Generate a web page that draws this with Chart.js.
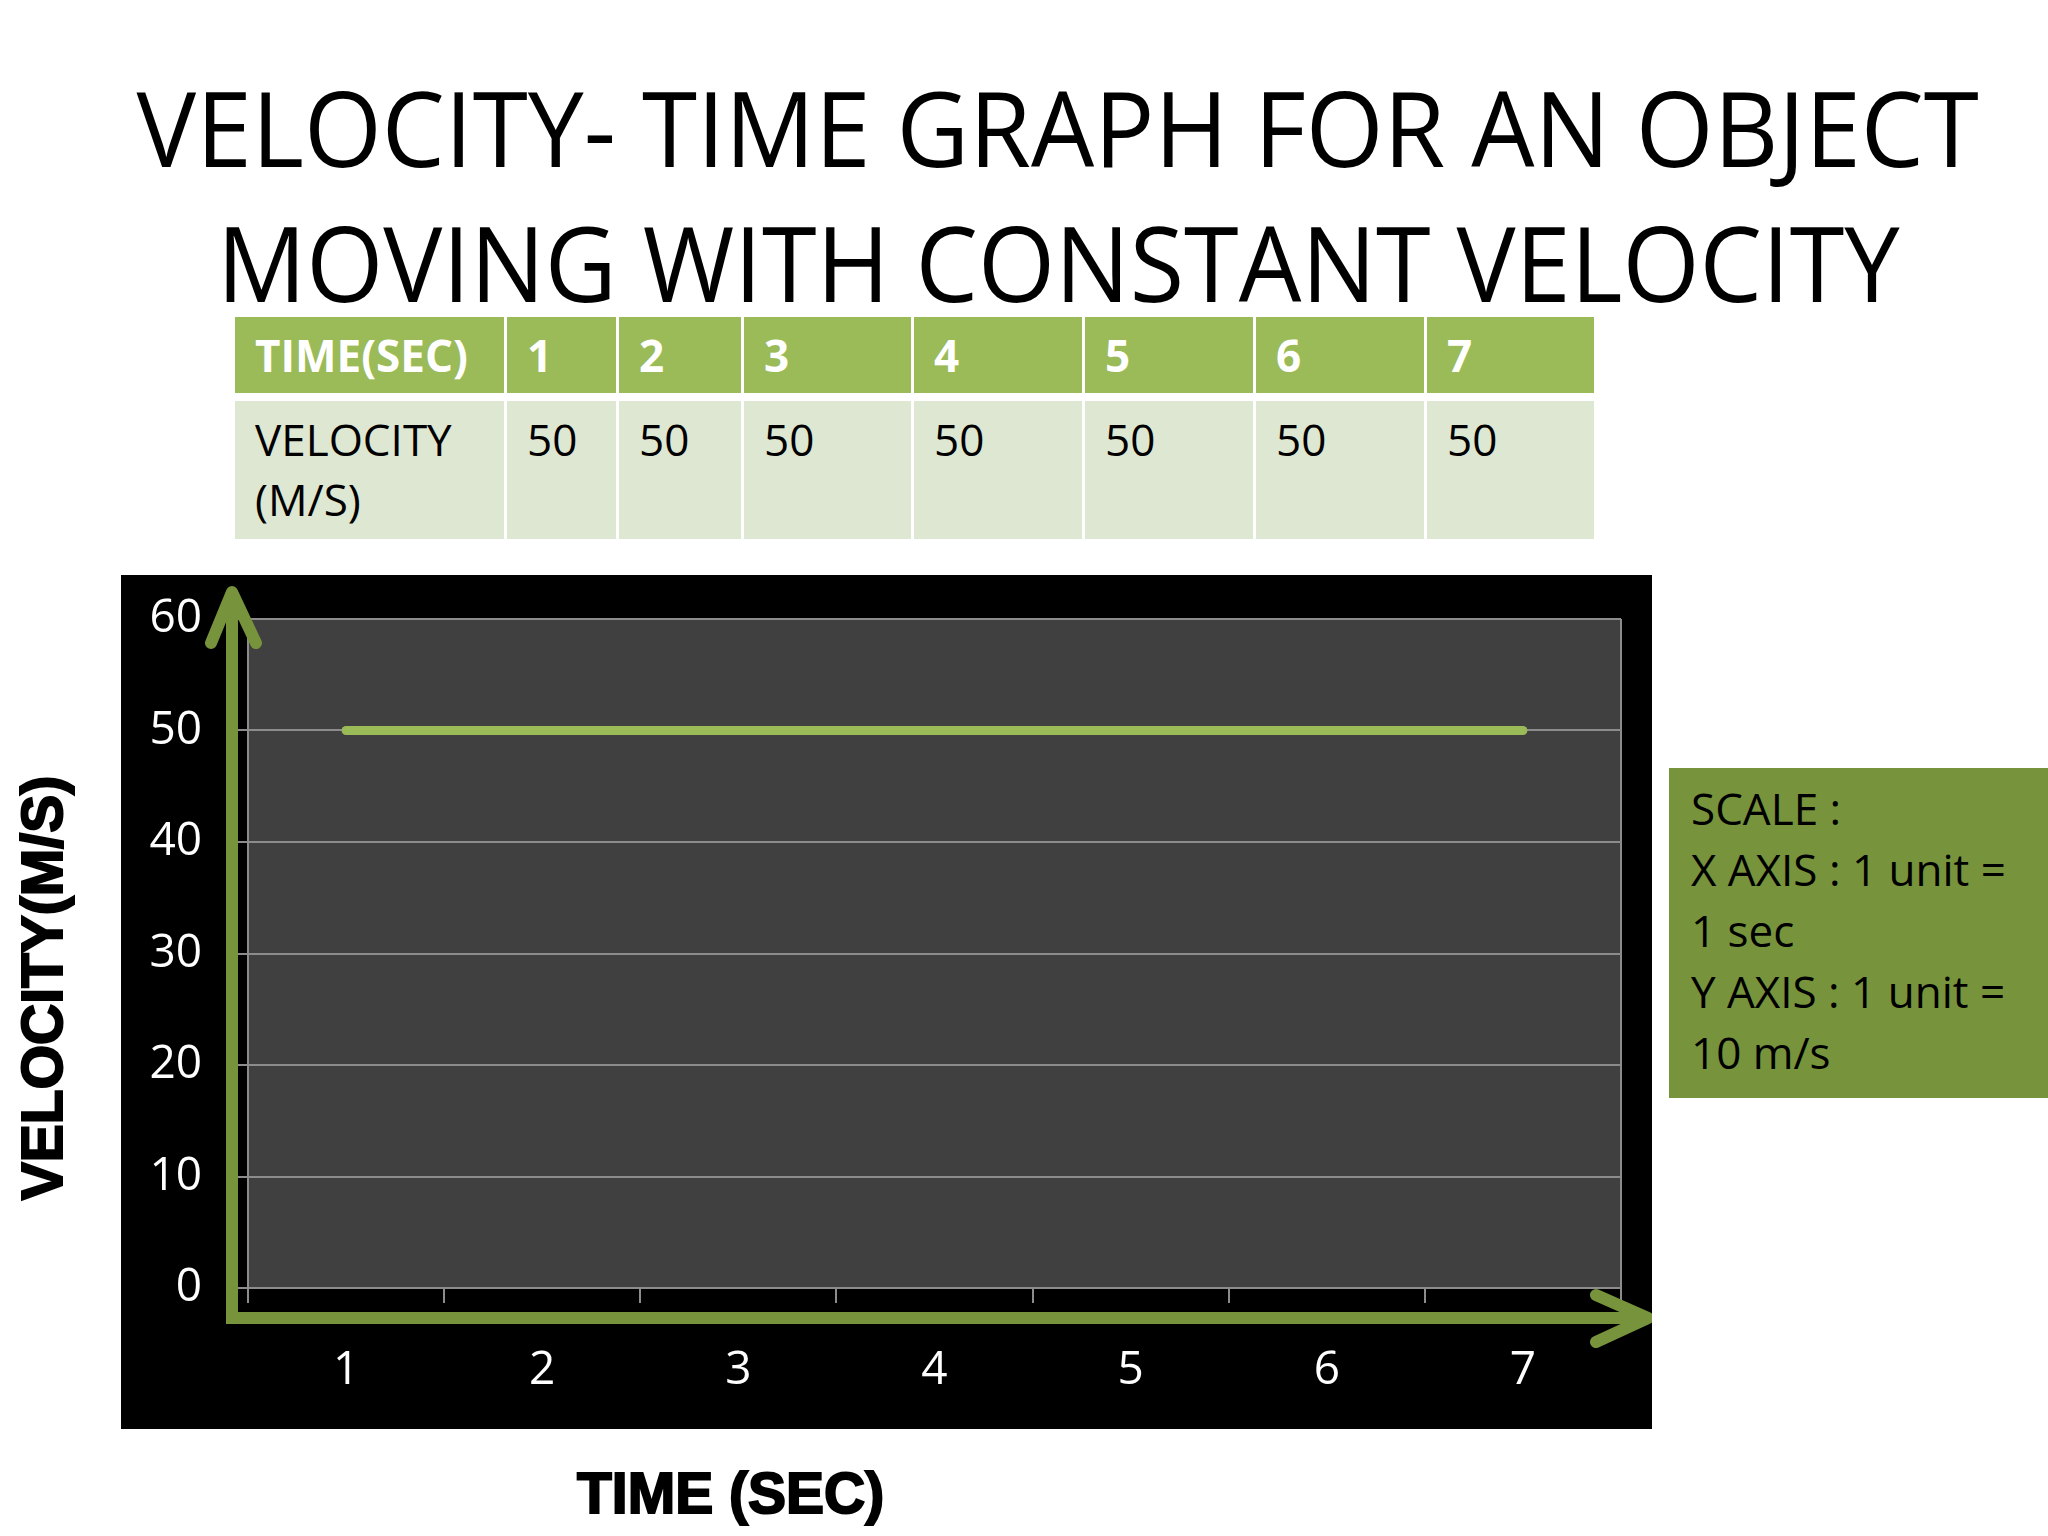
<!DOCTYPE html>
<html>
<head>
<meta charset="utf-8">
<script src="https://cdn.jsdelivr.net/npm/chart.js@4.4.1/dist/chart.umd.min.js"></script>
<style>
  body { margin: 0; width: 2048px; height: 1536px; background: #fff; position: relative; overflow: hidden; font-family: 'Open Sans', sans-serif; }
  .titulo { position: absolute; left: 0; width: 2116px; text-align: center; font-size: 104px; line-height: 104px; color: #000; white-space: nowrap; }
  .titulo span { display: inline-block; transform-origin: center; }
  .celda { position: absolute; box-sizing: border-box; padding-left: 20px; font-size: 44px; white-space: nowrap; }
  .cab { background: #9bbb59; color: #fff; font-weight: bold; line-height: 76px; }
  .dato { background: #dee7d1; color: #000; line-height: 60px; padding-top: 8px; }
  #escala { position: absolute; left: 1669px; top: 768px; width: 379px; height: 330px; box-sizing: border-box; background: #77933c; padding: 10px 0 0 22px; font-size: 44px; line-height: 61px; color: #000; }
  .ejeTitulo { position: absolute; font-family: 'Liberation Sans', Arial, sans-serif; font-weight: bold; font-size: 57px; line-height: 57px; color: #000; -webkit-text-stroke: 2px #000; white-space: nowrap; }
  #marco { position: absolute; left: 121px; top: 575px; width: 1531px; height: 854px; }
</style>
</head>
<body>
<div class="titulo" style="top:75px"><span id="t1">VELOCITY- TIME GRAPH FOR AN OBJECT</span></div>
<div class="titulo" style="top:210px"><span id="t2">MOVING WITH CONSTANT VELOCITY</span></div>
<div id="tabla"></div>
<div id="marco"><canvas id="grafico" width="1531" height="854"></canvas></div>
<div id="escala">SCALE :<br>X AXIS : 1 unit =<br>1 sec<br>Y AXIS : 1 unit =<br>10 m/s</div>
<div class="ejeTitulo" style="left:577px; top:1465px">TIME (SEC)</div>
<div class="ejeTitulo" style="left:42px; top:988px; transform: translate(-50%, -50%) rotate(-90deg)">VELOCITY(M/S)</div>
<script>
const tiempos = ['1', '2', '3', '4', '5', '6', '7'];
const velocidades = [50, 50, 50, 50, 50, 50, 50];
const yMin = 0;
const yMax = 60;
const yPaso = 10;

// tabla de datos
const bordes = [235, 507, 619, 744, 914, 1085, 1256, 1427, 1597];
const tabla = document.getElementById('tabla');
const encabezados = ['TIME(SEC)'].concat(tiempos);
const filaDatos = ['VELOCITY<br>(M/S)'].concat(velocidades.map(String));
for (let i = 0; i < encabezados.length; i++) {
    const ancho = bordes[i + 1] - bordes[i] - 3;
    const c1 = document.createElement('div');
    c1.className = 'celda cab';
    c1.style.cssText = `left:${bordes[i]}px; top:317px; width:${ancho}px; height:76px;`;
    c1.innerHTML = encabezados[i];
    tabla.appendChild(c1);
    const c2 = document.createElement('div');
    c2.className = 'celda dato';
    c2.style.cssText = `left:${bordes[i]}px; top:401px; width:${ancho}px; height:138px;`;
    c2.innerHTML = filaDatos[i];
    tabla.appendChild(c2);
}

// ajustar ancho del titulo
function ajustar(id, objetivo) {
    const el = document.getElementById(id);
    el.style.transform = `scaleX(${objetivo / el.offsetWidth})`;
}
ajustar('t1', 1842);
ajustar('t2', 1683);

const fondo = {
    id: 'fondo',
    beforeDraw(chart) {
        const c = chart.ctx, a = chart.chartArea;
        c.save();
        c.fillStyle = '#000';
        c.fillRect(0, 0, chart.width, chart.height);
        c.fillStyle = '#404040';
        c.fillRect(a.left, a.top, a.right - a.left, a.bottom - a.top);
        c.restore();
    },
    afterDatasetsDraw(chart) {
        const c = chart.ctx, a = chart.chartArea;
        c.save();
        c.strokeStyle = '#8c8c8c';
        c.lineWidth = 2;
        c.beginPath();
        c.moveTo(a.right, a.top);
        c.lineTo(a.right, a.bottom + 12);
        c.stroke();
        // flechas de los ejes
        const ax = a.left - 16, ay = a.bottom + 30;
        const puntaY = a.top - 27, puntaX = chart.width - 4;
        c.strokeStyle = '#77933c';
        c.lineWidth = 12;
        c.lineCap = 'butt';
        c.beginPath();
        c.moveTo(ax, ay + 6);
        c.lineTo(ax, puntaY + 4);
        c.moveTo(ax - 6, ay);
        c.lineTo(puntaX - 4, ay);
        c.stroke();
        c.lineCap = 'round';
        c.lineJoin = 'round';
        c.beginPath();
        c.moveTo(ax - 21, puntaY + 51);
        c.lineTo(ax, puntaY);
        c.lineTo(ax + 24, puntaY + 51);
        c.moveTo(puntaX - 52, ay - 23);
        c.lineTo(puntaX, ay);
        c.lineTo(puntaX - 52, ay + 24);
        c.stroke();
        c.restore();
    }
};

const ctx = document.getElementById('grafico').getContext('2d');
const grafico = new Chart(ctx, {
    type: 'line',
    data: {
        labels: tiempos,
        datasets: [{
            label: 'Velocity',
            data: velocidades,
            borderColor: '#9bbb59',
            borderWidth: 9,
            borderCapStyle: 'round',
            pointRadius: 0,
            fill: false
        }]
    },
    options: {
        responsive: false,
        animation: false,
        devicePixelRatio: 1,
        layout: { padding: { left: 0, right: 31, top: 44, bottom: 0 } },
        plugins: { legend: { display: false }, tooltip: { enabled: false } },
        scales: {
            x: {
                offset: true,
                afterFit: (s) => { s.height = 141; s.paddingLeft = 0; s.paddingRight = 0; },
                grid: { offset: true, drawOnChartArea: false, color: '#8c8c8c', lineWidth: 2, tickLength: 15 },
                border: { color: '#8c8c8c', width: 2 },
                ticks: { color: '#fff', font: { family: 'Open Sans', size: 46 }, padding: 40, maxRotation: 0 }
            },
            y: {
                min: yMin,
                max: yMax,
                afterFit: (s) => { s.width = 127; s.paddingTop = 0; s.paddingBottom = 0; },
                grid: { color: '#8c8c8c', lineWidth: 2, tickLength: 12 },
                border: { color: '#8c8c8c', width: 2 },
                ticks: { stepSize: yPaso, color: '#fff', font: { family: 'Open Sans', size: 46 }, padding: 34 }
            }
        }
    },
    plugins: [fondo]
});
</script>
</body>
</html>
